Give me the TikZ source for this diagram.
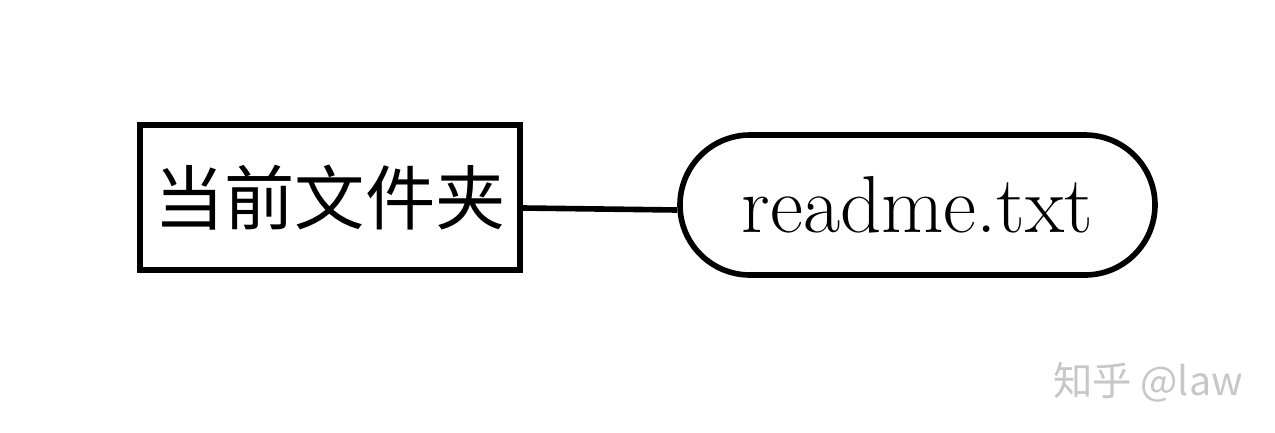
\documentclass[tikz,border=0pt]{standalone}
\usepackage{fontspec}
\newfontfamily\cjk{Noto Sans CJK SC}
\begin{document}
\begin{tikzpicture}[x=1cm,y=1cm,
  ink/.style={draw=black,line width=1.6pt},
  folder/.style={ink,rectangle,minimum width=3.8cm,minimum height=1.45cm,inner sep=0pt},
  filebox/.style={ink,rounded corners=0.7cm,minimum width=4.75cm,minimum height=1.4cm,inner sep=0pt},
  watermark/.style={text=black!22}]
\fill[white] (0,0) rectangle (12.75,4.32);
\useasboundingbox (0,0) rectangle (12.75,4.32);
\node[folder] (folder) at (3.30,2.345) {\cjk\fontsize{20}{24}\selectfont 当前文件夹};
\node[filebox] (file) at (9.175,2.27) {\fontsize{23}{27}\selectfont readme.txt};
\draw[ink] (folder.east |- 0,2.24) coordinate (a) -- (file.west |- 0,2.22) coordinate (b);
\node[watermark] (wm) at (11.48,0.50) {\cjk\fontsize{11.2}{13}\selectfont 知乎 @law};
\end{tikzpicture}
\end{document}
